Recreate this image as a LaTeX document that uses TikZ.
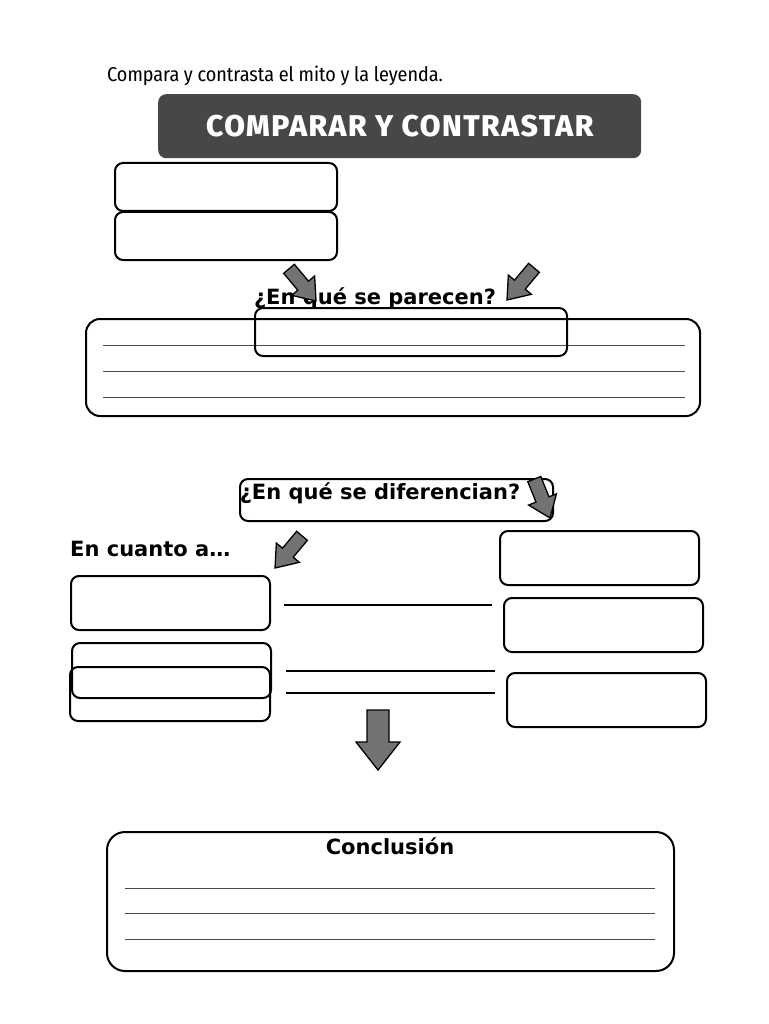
\documentclass[tikz,border=0pt]{standalone}
\usepackage{fontspec}
\setmainfont{DejaVu Sans}
\begin{document}
\begin{tikzpicture}[x=1pt,y=-1pt,
  bx/.style={draw=black,line width=2pt,rounded corners=8pt},
  ln/.style={draw=black!70,line width=0.9pt},
  lbl/.style={font=\bfseries\fontsize{21}{24}\selectfont,inner sep=0pt},
  barrow/.pic={\draw[fill=black!55,line width=1.3pt,line join=miter]
     (0,0)--(-20,15)--(-20,7)--(-42,7)--(-42,-7)--(-20,-7)--(-20,-15)--cycle;}]
\useasboundingbox (0,0) rectangle (768,1024);
\node[anchor=west,inner sep=0pt,font=\fontsize{20}{22}\selectfont] (hdr) at (107,76) {\fontspec{Fira Sans Condensed}Compara y contrasta el mito y la leyenda.};
\node[fill=black!72,rounded corners=8pt,minimum width=483pt,minimum height=64pt,anchor=north west,inner sep=0pt] (title) at (158,94) {};
\node[text=white,font=\fontsize{30}{34}\selectfont] at (title.center) {\fontspec{Fira Sans ExtraBold}[LetterSpace=5]COMPARAR Y CONTRASTAR};
% top small boxes
\draw[bx] (115,163) rectangle (337,211);
\draw[bx] (115,212) rectangle (337,260);
% parecen
\draw[bx,rounded corners=14pt] (86,319) rectangle (700,416);
\foreach \y in {345,371,397} \draw[ln] (103,\y)--(685,\y);
\node[lbl] (par) at (375,298) {¿En qué se parecen?};
\draw[bx] (255,308) rectangle (567,356);
\pic[rotate=-50] at (316,301) {barrow};
\pic[rotate=-130] at (507,300) {barrow};
% diferencian
\draw[bx] (240,479) rectangle (553,521);
\node[lbl] (dif) at (380,493) {¿En qué se diferencian?};
\pic[rotate=-68] at (550,518) {barrow};
\pic[rotate=-130] at (275,568) {barrow};
\node[lbl,anchor=west] (enc) at (70,549) {En cuanto a…};
\draw[bx] (71,576) rectangle (270,630);
\draw[bx] (72,643) rectangle (271,698);
\draw[bx] (70,667) rectangle (270,721);
\draw[line width=1.2pt] (284,605)--(492,605);
\draw[line width=1.2pt] (286,671)--(495,671);
\draw[line width=1.2pt] (286,693)--(495,693);
\draw[bx] (500,531) rectangle (699,585);
\draw[bx] (504,598) rectangle (703,652);
\draw[bx] (507,673) rectangle (706,727);
% big down arrow
\draw[fill=black!55,line width=1.3pt] (378,770)--(356,742)--(367,742)--(367,710)--(389,710)--(389,742)--(400,742)--cycle;
% conclusion
\draw[bx,rounded corners=18pt] (107,832) rectangle (674,971);
\node[lbl] (conc) at (390,846) {Conclusión};
\foreach \y in {888,913,939} \draw[ln] (125,\y)--(655,\y);
\end{tikzpicture}
\end{document}
